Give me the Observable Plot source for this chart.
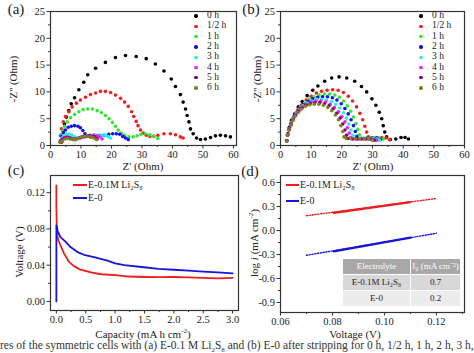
<!DOCTYPE html>
<html><head><meta charset="utf-8">
<script src="https://cdn.jsdelivr.net/npm/d3@7"></script>
<script src="https://cdn.jsdelivr.net/npm/@observablehq/plot@0.6"></script>
<style>
html,body{margin:0;padding:0;background:#fff;}
body{width:474px;height:353px;overflow:hidden;position:relative;font-family:"Liberation Serif","Times New Roman",serif;color:#222;}
.abs{position:absolute;white-space:nowrap;line-height:1;}
.panel{position:absolute;}
.panel svg{overflow:visible;}
table.tb{position:absolute;border-collapse:separate;border-spacing:1px;font-size:9px;font-family:"Liberation Serif",serif;table-layout:fixed;}
table.tb td{text-align:center;padding:0;white-space:nowrap;overflow:hidden;line-height:1;}
</style></head><body>
<script>
// ---------- DATA ----------
const timeLabels = ["0 h","1/2 h","1 h","2 h","3 h","4 h","5 h","6 h"];
const timeColors = ["#000000","#f02020","#33e633","#1010f0","#22f0f0","#f020f0","#800080","#808020"];

// (a) E-0.1M Li2S8 Nyquist points [Z', -Z'']
const a0h = [[3.6,0.6],[3.8,1.6],[4.2,2.8],[4.6,4.0],[5.2,5.3],[6.0,6.5],[6.8,7.8],[7.9,8.9],[9.3,10.4],[10.9,11.8],[12.2,13.2],[14.8,14.4],[18.0,15.5],[21.3,16.4],[24.6,16.8],[28.1,16.6],[31.4,16.2],[34.4,15.2],[37.2,13.9],[39.6,12.4],[41.0,11.0],[42.6,9.5],[43.5,8.1],[44.3,6.8],[44.8,5.6],[45.4,4.4],[45.9,3.1],[46.8,2.2],[47.9,1.4],[49.2,1.1],[50.8,1.2],[52.5,1.5],[54.1,1.8],[55.7,1.9],[57.4,1.8],[59.0,1.6]];
const a05h = [[3.1,0.6],[3.3,1.9],[3.6,3.1],[4.2,4.4],[4.9,5.4],[6.0,6.3],[7.1,7.2],[8.5,7.9],[9.8,8.5],[11.5,9.0],[13.1,9.5],[14.8,9.8],[16.4,10.1],[18.0,10.1],[19.7,9.9],[21.3,9.4],[23.0,8.8],[24.3,8.1],[25.5,7.3],[26.6,6.3],[27.3,5.4],[28.1,4.5],[28.7,3.7],[29.5,2.9],[30.4,2.3],[31.4,1.9],[32.6,1.7],[33.9,1.7],[35.2,1.9],[37.2,2.2],[39.3,2.2],[41.0,2.0],[42.6,1.6],[43.5,1.4]];
const a1h = [[3.3,0.9],[3.5,1.9],[3.9,2.8],[4.6,3.6],[5.5,4.4],[6.6,5.2],[7.9,5.8],[9.3,6.3],[10.7,6.7],[12.2,6.8],[13.8,6.8],[15.3,6.5],[16.7,6.1],[18.0,5.6],[19.2,5.0],[20.3,4.3],[21.3,3.6],[22.2,2.9],[23.2,2.3],[24.3,1.9],[25.7,1.6],[27.1,1.6],[28.4,1.8],[29.7,2.1],[31.1,2.2],[32.6,2.0],[33.9,1.7],[35.2,1.3]];
const a2h = [[3.3,0.9],[3.6,1.7],[4.2,2.4],[4.9,2.9],[5.8,3.4],[6.8,3.6],[7.9,3.7],[9.0,3.6],[9.8,3.3],[10.6,2.8],[11.3,2.2],[12.0,1.8],[13.1,1.6],[14.2,1.6],[15.3,1.7],[16.4,1.8],[17.7,1.9],[19.1,2.1],[20.4,2.2],[21.6,2.2],[22.7,2.1],[23.7,1.7],[24.6,1.4],[25.5,1.1]];
const a3h = [[3.3,0.8],[3.7,1.4],[4.4,1.8],[5.2,2.1],[6.2,2.1],[7.1,1.9],[7.9,1.6],[8.7,1.4],[9.8,1.5],[10.9,1.6],[12.0,1.8],[13.1,1.9],[14.4,2.0],[15.8,2.0],[16.9,1.9],[18.0,1.9],[18.8,1.7],[19.7,1.4]];
const a4h = [[3.3,0.75],[3.8,1.2],[4.6,1.5],[5.5,1.6],[6.3,1.5],[7.1,1.2],[7.9,1.1],[8.7,1.2],[9.8,1.4],[10.9,1.6],[12.0,1.7],[13.1,1.9],[14.2,1.9],[15.3,1.8],[16.2,1.6],[16.9,1.2]];
const a5h = [[3.3,0.7],[3.9,1.1],[4.7,1.4],[5.6,1.5],[6.4,1.4],[7.3,1.2],[8.2,1.2],[9.3,1.4],[10.4,1.6],[11.5,1.7],[12.6,1.8],[13.7,1.7],[14.5,1.6],[15.3,1.2]];
const a6h = [[3.3,0.6],[3.9,0.9],[4.7,1.2],[5.6,1.3],[6.4,1.2],[7.3,1.1],[8.2,1.1],[9.2,1.3],[10.2,1.6],[11.1,1.7],[12.2,1.7],[13.3,1.6],[14.2,1.4],[15.0,1.1]];

// (b) E-0 Nyquist points
const b0h = [[2.1,0.9],[2.4,2.2],[2.9,3.4],[3.6,4.7],[4.6,5.9],[5.8,7.2],[7.1,8.2],[8.7,9.3],[10.5,10.3],[12.2,11.1],[14.4,12.0],[16.7,12.6],[19.1,12.8],[21.6,12.6],[24.2,12.0],[26.4,11.0],[28.1,10.0],[29.8,8.7],[31.1,7.5],[32.2,6.2],[33.0,5.0],[33.5,3.7],[34.0,2.5],[34.6,1.6],[35.8,1.1],[37.6,1.2],[39.3,1.5],[40.6,1.5],[41.7,1.2]];
const b05h = [[2.1,0.9],[2.4,2.0],[2.9,3.2],[3.6,4.4],[4.5,5.5],[5.6,6.6],[6.9,7.6],[8.4,8.5],[10.0,9.2],[11.7,9.8],[13.4,10.1],[15.2,10.3],[17.0,10.4],[18.8,10.3],[20.5,9.9],[22.1,9.2],[23.5,8.3],[24.8,7.2],[25.9,6.0],[26.8,4.8],[27.5,3.6],[28.1,2.5],[28.7,1.6],[30.0,1.4],[31.5,1.5],[33.0,1.5],[34.4,1.4],[35.6,1.1]];
const b1h = [[2.0,0.9],[2.3,2.0],[2.8,3.1],[3.4,4.2],[4.2,5.2],[5.2,6.2],[6.4,7.1],[7.8,7.9],[9.3,8.6],[10.9,9.1],[12.6,9.4],[14.3,9.6],[16.0,9.6],[17.7,9.4],[19.2,9.0],[20.6,8.3],[21.8,7.4],[22.9,6.4],[23.8,5.3],[24.6,4.1],[25.2,3.0],[25.8,2.0],[26.4,1.4],[27.9,1.4],[29.4,1.5],[30.9,1.5],[32.3,1.4],[33.5,1.2]];
const b2h = [[2.0,0.9],[2.3,2.0],[2.8,3.1],[3.4,4.1],[4.2,5.1],[5.1,6.0],[6.2,6.9],[7.5,7.6],[9.0,8.2],[10.5,8.7],[12.1,9.0],[13.7,9.1],[15.3,9.1],[16.9,8.9],[18.4,8.5],[19.8,7.8],[21.0,6.9],[22.1,5.9],[23.0,4.8],[23.8,3.7],[24.4,2.6],[24.9,1.7],[25.5,1.3],[27.0,1.3],[28.5,1.4],[30.0,1.4],[31.4,1.4],[32.6,1.1]];
const b3h = [[2.0,0.9],[2.3,2.0],[2.8,3.0],[3.4,4.0],[4.1,5.0],[5.0,5.9],[6.1,6.7],[7.3,7.4],[8.7,7.9],[10.2,8.3],[11.8,8.6],[13.4,8.6],[15.0,8.5],[16.6,8.2],[18.0,7.7],[19.3,7.0],[20.5,6.1],[21.5,5.1],[22.3,4.0],[23.0,2.9],[23.6,1.9],[24.1,1.3],[25.6,1.2],[27.1,1.3],[28.6,1.3],[30.1,1.3],[31.4,1.2],[32.2,1.0]];
const b4h = [[2.0,0.9],[2.3,2.0],[2.8,3.0],[3.4,4.0],[4.1,4.9],[5.0,5.8],[6.0,6.6],[7.2,7.2],[8.5,7.7],[10.0,8.1],[11.5,8.3],[13.1,8.3],[14.7,8.1],[16.2,7.7],[17.6,7.1],[18.9,6.3],[20.0,5.4],[21.0,4.4],[21.8,3.3],[22.4,2.3],[22.9,1.5],[24.2,1.2],[25.7,1.2],[27.2,1.2],[28.7,1.2],[30.1,1.2],[31.3,1.0]];
const b5h = [[2.0,0.9],[2.3,1.9],[2.8,2.9],[3.4,3.9],[4.1,4.8],[4.9,5.6],[5.9,6.4],[7.0,7.0],[8.3,7.5],[9.7,7.8],[11.2,8.0],[12.8,8.0],[14.3,7.8],[15.8,7.4],[17.1,6.8],[18.3,6.0],[19.4,5.1],[20.3,4.0],[21.0,2.9],[21.5,1.9],[22.0,1.3],[23.4,1.2],[24.9,1.2],[26.4,1.2],[27.9,1.2],[29.3,1.2],[30.6,1.0]];
const b6h = [[2.0,0.8],[2.3,1.9],[2.8,2.9],[3.4,3.8],[4.1,4.7],[4.9,5.5],[5.8,6.2],[6.9,6.8],[8.1,7.3],[9.5,7.6],[11.0,7.7],[12.5,7.7],[14.0,7.5],[15.4,7.1],[16.7,6.5],[17.9,5.7],[18.9,4.8],[19.7,3.7],[20.3,2.6],[20.7,1.6],[21.4,1.3],[22.9,1.3],[24.4,1.3],[25.9,1.3],[27.4,1.3],[28.8,1.2],[30.0,1.0]];

// (c) voltage profiles [capacity, voltage]
const cLabels = ["E-0.1M Li\u2082S\u2088","E-0"];
const cColors = ["#ee1c1c","#1515dd"];
const cLi2S8 = [[0.0,0.128],[0.0,0.105],[0.005,0.088],[0.01,0.075],[0.03,0.068],[0.07,0.062],[0.13,0.053],[0.21,0.044],[0.30,0.039],[0.41,0.035],[0.59,0.032],[0.76,0.030],[1.0,0.029],[1.22,0.0275],[1.5,0.027],[1.75,0.0268],[2.0,0.027],[2.25,0.0265],[2.5,0.026],[2.75,0.0255],[3.0,0.026]];
const cE0 = [[0.0,0.0],[0.0,0.084],[0.01,0.082],[0.02,0.078],[0.07,0.071],[0.155,0.066],[0.24,0.060],[0.36,0.0545],[0.47,0.0515],[0.64,0.049],[0.87,0.045],[1.0,0.042],[1.16,0.040],[1.45,0.038],[1.74,0.036],[2.0,0.035],[2.25,0.034],[2.5,0.033],[2.75,0.032],[3.0,0.031]];

// (d) Tafel: measured (solid) and fit (dotted) [voltage, log i]
const dLi2S8Meas = [[0.0805,0.22],[0.11,0.355]];
const dLi2S8Fit = [[0.07,0.185],[0.12,0.40]];
const dE0Meas = [[0.0805,-0.26],[0.11,-0.09]];
const dE0Fit = [[0.07,-0.31],[0.12,-0.035]];
const tableHead = ["Electrolyte","I\u2080 (mA cm\u207B\u00B2)"];
const tableRows = [["E-0.1M Li\u2082S\u2088","0.7"],["E-0","0.2"]];

// ticks
const ticksEisX = [0,10,20,30,40,50,60];
const minorEisX = [5,15,25,35,45,55];
const ticksEisY = [0,5,10,15,20,25];
const minorEisY = [2.5,7.5,12.5,17.5,22.5];
const ticksCX = [0,0.5,1,1.5,2,2.5,3];
const minorCX = [0.25,0.75,1.25,1.75,2.25,2.75];
const ticksCY = [0,0.04,0.08,0.12];
const minorCY = [0.02,0.06,0.10];
const ticksDX = [0.06,0.08,0.10,0.12];
const minorDX = [0.07,0.09,0.11,0.13];
const ticksDY = [-0.9,-0.6,-0.3,0,0.3,0.6];
const minorDY = [-0.75,-0.45,-0.15,0.15,0.45];

// ---------- DRAW ----------
const FONT = "'Liberation Serif', 'Times New Roman', serif";
const AX = "#333";
function place(node, left, top) {
  const d = document.createElement("div");
  d.className = "panel"; d.style.left = left + "px"; d.style.top = top + "px";
  d.appendChild(node); document.body.appendChild(d);
}
function txt(str, x, y, size, opts = {}) {
  const d = document.createElement("div");
  d.className = "abs";
  d.innerHTML = str;
  d.style.fontSize = size + "px";
  d.style.left = x + "px"; d.style.top = y + "px";
  const ax = opts.anchor === "start" ? "0" : "-50%";
  d.style.transform = `translate(${ax},-50%)`;
  if (opts.rotate) { d.style.transformOrigin = "0 0"; d.style.transform = "rotate(-90deg) translate(-50%,-50%)"; }
  if (opts.color) d.style.color = opts.color;
  document.body.appendChild(d);
  return d;
}
function axes(tx, mx, ty, my, fx, fy) {
  return [
    Plot.axisX({ticks: tx, tickSize: 3.5, tickPadding: 2, tickFormat: fx, label: null, stroke: AX, fontSize: 10.5, fill: "#222"}),
    Plot.axisX({ticks: mx, tickSize: 2, tickFormat: () => "", label: null, stroke: AX}),
    Plot.axisY({ticks: ty, tickSize: 3.5, tickPadding: 2, tickFormat: fy, label: null, stroke: AX, fontSize: 10.5, fill: "#222"}),
    Plot.axisY({ticks: my, tickSize: 2, tickFormat: () => "", label: null, stroke: AX}),
    Plot.frame({stroke: AX, strokeWidth: 1.2})
  ];
}
function eis(series, dims) {
  const rows = series.flatMap((pts, i) => pts.map(([x, y]) => ({x, y, s: timeLabels[i]})));
  return Plot.plot({
    width: dims.w, height: dims.h,
    marginLeft: dims.ml, marginRight: dims.mr, marginTop: dims.mt, marginBottom: dims.mb,
    style: {fontFamily: FONT, fontSize: "10.5px", background: "transparent"},
    x: {domain: dims.xd}, y: {domain: [0, 25]},
    color: {domain: timeLabels, range: timeColors},
    marks: [
      Plot.dot(rows, {x: "x", y: "y", fill: "s", r: 1.8}),
      ...axes(ticksEisX, minorEisX, ticksEisY, minorEisY, d => String(d), d => String(d))
    ]
  });
}
// (a)
place(eis([a0h,a05h,a1h,a2h,a3h,a4h,a5h,a6h], {w: 240, h: 175, ml: 50, mr: 4, mt: 11, mb: 30, xd: [0, 61]}), 0, 0);
// (b)
place(eis([b0h,b05h,b1h,b2h,b3h,b4h,b5h,b6h], {w: 237, h: 175, ml: 43, mr: 10, mt: 11, mb: 30, xd: [0, 60]}), 237, 0);

// (c)
const cRows = [cLi2S8, cE0].flatMap((pts, i) => pts.map(([x, y]) => ({x, y, s: cLabels[i]})));
place(Plot.plot({
  width: 240, height: 180, marginLeft: 50, marginRight: 2, marginTop: 15, marginBottom: 30,
  style: {fontFamily: FONT, fontSize: "10.5px", background: "transparent"},
  x: {domain: [-0.1, 3.1]}, y: {domain: [-0.01, 0.139]},
  color: {domain: cLabels, range: cColors},
  marks: [
    Plot.line(cRows, {x: "x", y: "y", stroke: "s", z: "s", strokeWidth: 1.8}),
    ...axes(ticksCX, minorCX, ticksCY, minorCY, d => d.toFixed(1), d => d.toFixed(2))
  ]
}), 0, 160);

// (d)
const dMeas = [dLi2S8Meas, dE0Meas].flatMap((pts, i) => pts.map(([x, y]) => ({x, y, s: cLabels[i]})));
const dFit = [dLi2S8Fit, dE0Fit].flatMap((pts, i) => pts.map(([x, y]) => ({x, y, s: cLabels[i]})));
place(Plot.plot({
  width: 237, height: 180, marginLeft: 43, marginRight: 10, marginTop: 15, marginBottom: 28,
  style: {fontFamily: FONT, fontSize: "10.5px", background: "transparent"},
  x: {domain: [0.06, 0.1308]}, y: {domain: [-1.025, 0.6875]},
  color: {domain: cLabels, range: cColors},
  marks: [
    Plot.line(dFit, {x: "x", y: "y", stroke: "s", z: "s", strokeWidth: 1.4, strokeDasharray: "1.2,1.6"}),
    Plot.line(dMeas, {x: "x", y: "y", stroke: "s", z: "s", strokeWidth: 2.2}),
    ...axes(ticksDX, minorDX, ticksDY, minorDY, d => d.toFixed(2), d => d.toFixed(1))
  ]
}), 237, 160);

// panel letters
txt("(a)", 16, 9, 15); txt("(b)", 251, 9, 15); txt("(c)", 16, 170, 15); txt("(d)", 250, 171, 15);
// axis titles
txt("Z' (Ohm)", 143, 166, 11); txt("Z' (Ohm)", 373, 166, 11);
txt("-Z'' (Ohm)", 13, 79, 11, {rotate: true}); txt("-Z'' (Ohm)", 257, 79, 11, {rotate: true});
txt("Capacity (mA h cm<sup style='font-size:7px'>-2</sup>)", 143, 334, 11);
txt("Voltage (V)", 355, 334, 11);
txt("Voltage (V)", 19, 252, 11, {rotate: true});
txt("log <i>i</i> (mA cm<sup style='font-size:7px'>-2</sup>)", 254, 243, 11, {rotate: true});

// legends (a),(b)
[[196, 207], [421, 432]].forEach(([dx, tx]) => {
  timeLabels.forEach((lab, i) => {
    const y = 16 + i * 10.3;
    const dot = document.createElement("div");
    dot.className = "abs";
    Object.assign(dot.style, {left: (dx - 1.7) + "px", top: (y - 1.7) + "px", width: "3.4px", height: "3.4px", borderRadius: "50%", background: timeColors[i]});
    document.body.appendChild(dot);
    txt(lab, tx, y, 9.5, {anchor: "start"});
  });
});
// legends (c),(d)
[[73, 88, [185, 198]], [286, 300, [185, 201]]].forEach(([lx, tx, ys]) => {
  cLabels.forEach((lab, i) => {
    const ln = document.createElement("div");
    ln.className = "abs";
    Object.assign(ln.style, {left: lx + "px", top: (ys[i] - 1) + "px", width: (tx - lx - 1) + "px", height: "2px", background: cColors[i]});
    document.body.appendChild(ln);
    txt(lab, tx, ys[i], 10, {anchor: "start"});
  });
});
// table in (d)
const tb = document.createElement("table");
tb.className = "tb";
Object.assign(tb.style, {left: "342px", top: "258px", width: "119px"});
const rowsHtml = [];
rowsHtml.push(`<colgroup><col style="width:67px"><col style="width:49px"></colgroup>`);
rowsHtml.push(`<tr style="height:15px">${tableHead.map(h => `<td style="background:#a8a8a8;color:#fff">${h}</td>`).join("")}</tr>`);
tableRows.forEach((r, i) => rowsHtml.push(`<tr style="height:15px">${r.map(c => `<td style="background:${i ? "#ececec" : "#d8d8d8"};color:#222">${c}</td>`).join("")}</tr>`));
tb.innerHTML = rowsHtml.join("");
document.body.appendChild(tb);

// caption (cut at bottom, as in the source)
txt("res of the symmetric cells with (a) E-0.1 M Li<sub style='font-size:7px'>2</sub>S<sub style='font-size:7px'>8</sub>  and (b) E-0 after stripping for 0 h, 1/2 h, 1 h, 2 h, 3 h, 4 h, 5 h, and 6 h", 0, 347, 11.5, {anchor: "start", color: "#333"});
</script>
</body></html>
